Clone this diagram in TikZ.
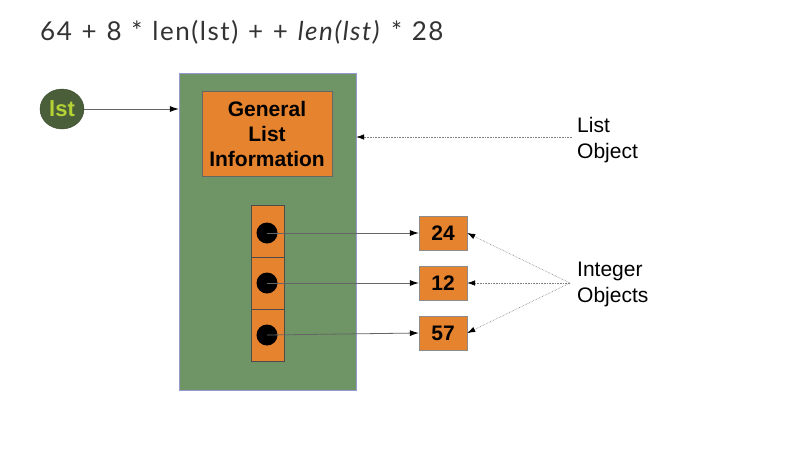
\documentclass[tikz,border=0pt]{standalone}
\usepackage{fontspec}
\setmainfont{Liberation Sans}
\newfontfamily\formfont[LetterSpace=6]{Lato}
\usepackage{tikz}
\usetikzlibrary{positioning}
\usetikzlibrary{shapes,arrows,arrows.meta}
\definecolor{boxgreen}{HTML}{6F9465}
\definecolor{cellorange}{HTML}{E6832E}
\definecolor{lstgreen}{HTML}{4A5E3A}
\definecolor{lsttext}{HTML}{B5D334}
\tikzstyle{line} = [draw=black!60, -{Latex[length=9pt,width=6pt,color=black]}, line width=0.8pt]
\tikzstyle{dline} = [draw=black!50, -{Latex[length=8pt,width=5.5pt,color=black]}, densely dotted, line width=0.6pt]
\tikzstyle{cell} = [draw=black!70, fill=cellorange, minimum width=33pt, minimum height=52pt, inner sep=0pt]
\tikzstyle{intbox} = [draw=black!45, fill=cellorange, minimum width=48pt, minimum height=34pt, inner sep=0pt, font=\fontsize{21}{24}\selectfont\bfseries]
\tikzstyle{label} = [align=left, anchor=west, inner sep=0pt, font=\fontsize{21}{26}\selectfont]

\begin{document}
\begin{tikzpicture}[x=1pt, y=-1pt]
	\useasboundingbox (0, 0) rectangle (800, 448);
	\fill[white] (0, 0) rectangle (800, 448);

	\node[anchor=base west, inner sep=0pt, text=black!80, font=\formfont\fontsize{26}{30}\selectfont] (formula) at (40, 40) {\spaceskip=9.8pt\relax 64 + 8 * len(lst) + + \textit{len(lst)} * 28};

	\node[draw=black!45!blue!40, fill=boxgreen, minimum width=177pt, minimum height=317pt, inner sep=0pt] (listobj) at (267.5, 231.5) {};
	\node[draw=black!60, fill=cellorange, minimum width=130pt, minimum height=85pt, inner sep=0pt, align=center, font=\fontsize{21}{25}\selectfont\bfseries] (info) at (267, 133.5) {General\\List\\Information};

	\node[cell] (c1) at (267.5, 231) {};
	\node[cell] (c2) at (267.5, 283) {};
	\node[cell] (c3) at (267.5, 335) {};
	\fill[black] (267, 233) circle (10.5) coordinate (p1);
	\fill[black] (267, 283) circle (10.5) coordinate (p2);
	\fill[black] (267, 335) circle (10.5) coordinate (p3);

	\node[intbox] (n24) at (443, 233) {24};
	\node[intbox] (n12) at (443, 283) {12};
	\node[intbox] (n57) at (443, 333) {57};

	\node[ellipse, draw=lstgreen!80!black, fill=lstgreen, minimum width=44pt, minimum height=40pt, inner sep=0pt, text=lsttext, font=\fontsize{22}{24}\selectfont\bfseries] (lst) at (62, 109) {lst};

	\node[label] (lobj) at (577, 140) {List\\Object};
	\node[label] (iobj) at (577, 284) {Integer\\Objects};

	\coordinate (lfrom) at (572, 137);
	\coordinate (ifrom) at (570, 283);

	\path[line] (lst) -- (listobj.west |- lst);
	\path[line] (p1) -- (n24.west);
	\path[line] (p2) -- (n12.west);
	\path[line] (p3) -- (n57.west);
	\path[dline] (lfrom) -- (listobj.east |- lfrom);
	\path[dline] (ifrom) -- (n24.east);
	\path[dline] (ifrom) -- (n12.east);
	\path[dline] (ifrom) -- (n57.east);
\end{tikzpicture}
\end{document}
